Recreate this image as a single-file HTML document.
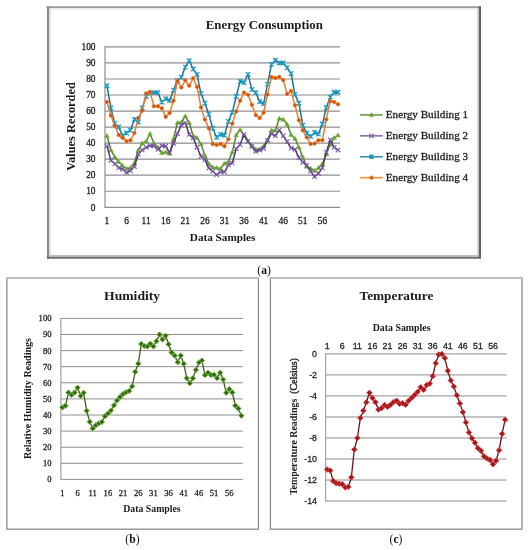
<!DOCTYPE html>
<html><head><meta charset="utf-8"><title>Energy, Humidity and Temperature</title>
<style>html,body{margin:0;padding:0;background:#fff;} body{width:528px;height:550px;overflow:hidden;} svg{display:block;}</style>
</head><body>
<svg width="528" height="550" viewBox="0 0 528 550">
<rect width="528" height="550" fill="#fff"/>
<rect x="47" y="6.3" width="434" height="252.4" fill="#fff"/>
<line x1="46.5" y1="7.2" x2="481" y2="7.2" stroke="#9a9a9a" stroke-width="1.8"/>
<line x1="48" y1="6.3" x2="48" y2="258.7" stroke="#8c8c8c" stroke-width="2.2"/>
<line x1="49.8" y1="8" x2="49.8" y2="256" stroke="#d8d8d8" stroke-width="1.4"/>
<line x1="49" y1="8.9" x2="478" y2="8.9" stroke="#e2e2e2" stroke-width="1.2"/>
<line x1="479.8" y1="6.3" x2="479.8" y2="258.7" stroke="#606060" stroke-width="2.4"/>
<line x1="477.9" y1="8" x2="477.9" y2="256" stroke="#c8c8c8" stroke-width="1.2"/>
<line x1="47" y1="257.6" x2="481" y2="257.6" stroke="#6e6e6e" stroke-width="2.4"/>
<line x1="49" y1="255.6" x2="478" y2="255.6" stroke="#bdbdbd" stroke-width="1.2"/>
<line x1="105" y1="191.26" x2="340" y2="191.26" stroke="#8e8e8e" stroke-width="1.2"/>
<line x1="105" y1="175.22" x2="340" y2="175.22" stroke="#8e8e8e" stroke-width="1.2"/>
<line x1="105" y1="159.18" x2="340" y2="159.18" stroke="#8e8e8e" stroke-width="1.2"/>
<line x1="105" y1="143.14" x2="340" y2="143.14" stroke="#8e8e8e" stroke-width="1.2"/>
<line x1="105" y1="127.1" x2="340" y2="127.1" stroke="#8e8e8e" stroke-width="1.2"/>
<line x1="105" y1="111.06" x2="340" y2="111.06" stroke="#8e8e8e" stroke-width="1.2"/>
<line x1="105" y1="95.02" x2="340" y2="95.02" stroke="#8e8e8e" stroke-width="1.2"/>
<line x1="105" y1="78.98" x2="340" y2="78.98" stroke="#8e8e8e" stroke-width="1.2"/>
<line x1="105" y1="62.94" x2="340" y2="62.94" stroke="#8e8e8e" stroke-width="1.2"/>
<line x1="105" y1="46.9" x2="340" y2="46.9" stroke="#8e8e8e" stroke-width="1.2"/>
<line x1="105" y1="207.3" x2="340" y2="207.3" stroke="#8e8e8e" stroke-width="1.2"/>
<line x1="105" y1="46.3" x2="105" y2="207.9" stroke="#8e8e8e" stroke-width="1.2"/>
<text x="95.5" y="210.5" font-size="9.4" font-family='"Liberation Serif", serif' fill="#222" stroke="#222" stroke-width="0.28" text-anchor="end">0</text>
<text x="95.5" y="194.46" font-size="9.4" font-family='"Liberation Serif", serif' fill="#222" stroke="#222" stroke-width="0.28" text-anchor="end">10</text>
<text x="95.5" y="178.42" font-size="9.4" font-family='"Liberation Serif", serif' fill="#222" stroke="#222" stroke-width="0.28" text-anchor="end">20</text>
<text x="95.5" y="162.38" font-size="9.4" font-family='"Liberation Serif", serif' fill="#222" stroke="#222" stroke-width="0.28" text-anchor="end">30</text>
<text x="95.5" y="146.34" font-size="9.4" font-family='"Liberation Serif", serif' fill="#222" stroke="#222" stroke-width="0.28" text-anchor="end">40</text>
<text x="95.5" y="130.3" font-size="9.4" font-family='"Liberation Serif", serif' fill="#222" stroke="#222" stroke-width="0.28" text-anchor="end">50</text>
<text x="95.5" y="114.26" font-size="9.4" font-family='"Liberation Serif", serif' fill="#222" stroke="#222" stroke-width="0.28" text-anchor="end">60</text>
<text x="95.5" y="98.22" font-size="9.4" font-family='"Liberation Serif", serif' fill="#222" stroke="#222" stroke-width="0.28" text-anchor="end">70</text>
<text x="95.5" y="82.18" font-size="9.4" font-family='"Liberation Serif", serif' fill="#222" stroke="#222" stroke-width="0.28" text-anchor="end">80</text>
<text x="95.5" y="66.14" font-size="9.4" font-family='"Liberation Serif", serif' fill="#222" stroke="#222" stroke-width="0.28" text-anchor="end">90</text>
<text x="95.5" y="50.1" font-size="9.4" font-family='"Liberation Serif", serif' fill="#222" stroke="#222" stroke-width="0.28" text-anchor="end">100</text>
<text x="106.96" y="223.8" font-size="9.4" font-family='"Liberation Serif", serif' fill="#222" stroke="#222" stroke-width="0.28" text-anchor="middle">1</text>
<text x="126.54" y="223.8" font-size="9.4" font-family='"Liberation Serif", serif' fill="#222" stroke="#222" stroke-width="0.28" text-anchor="middle">6</text>
<text x="146.12" y="223.8" font-size="9.4" font-family='"Liberation Serif", serif' fill="#222" stroke="#222" stroke-width="0.28" text-anchor="middle">11</text>
<text x="165.71" y="223.8" font-size="9.4" font-family='"Liberation Serif", serif' fill="#222" stroke="#222" stroke-width="0.28" text-anchor="middle">16</text>
<text x="185.29" y="223.8" font-size="9.4" font-family='"Liberation Serif", serif' fill="#222" stroke="#222" stroke-width="0.28" text-anchor="middle">21</text>
<text x="204.88" y="223.8" font-size="9.4" font-family='"Liberation Serif", serif' fill="#222" stroke="#222" stroke-width="0.28" text-anchor="middle">26</text>
<text x="224.46" y="223.8" font-size="9.4" font-family='"Liberation Serif", serif' fill="#222" stroke="#222" stroke-width="0.28" text-anchor="middle">31</text>
<text x="244.04" y="223.8" font-size="9.4" font-family='"Liberation Serif", serif' fill="#222" stroke="#222" stroke-width="0.28" text-anchor="middle">36</text>
<text x="263.62" y="223.8" font-size="9.4" font-family='"Liberation Serif", serif' fill="#222" stroke="#222" stroke-width="0.28" text-anchor="middle">41</text>
<text x="283.21" y="223.8" font-size="9.4" font-family='"Liberation Serif", serif' fill="#222" stroke="#222" stroke-width="0.28" text-anchor="middle">46</text>
<text x="302.79" y="223.8" font-size="9.4" font-family='"Liberation Serif", serif' fill="#222" stroke="#222" stroke-width="0.28" text-anchor="middle">51</text>
<text x="322.38" y="223.8" font-size="9.4" font-family='"Liberation Serif", serif' fill="#222" stroke="#222" stroke-width="0.28" text-anchor="middle">56</text>
<text x="264.3" y="29.3" font-size="12.8" font-family='"Liberation Serif", serif' fill="#1a1a1a" font-weight="bold" text-anchor="middle" textLength="117" lengthAdjust="spacingAndGlyphs">Energy Consumption</text>
<text x="222.6" y="241.2" font-size="11.3" font-family='"Liberation Serif", serif' fill="#1a1a1a" font-weight="bold" text-anchor="middle" textLength="65.6" lengthAdjust="spacingAndGlyphs">Data Samples</text>
<text x="74.7" y="126.45" font-size="11.8" font-family='"Liberation Serif", serif' fill="#1a1a1a" font-weight="bold" text-anchor="middle" textLength="88.7" lengthAdjust="spacingAndGlyphs" transform="rotate(-90 74.7 126.45)">Values Recorded</text>
<polyline points="106.96,135.76 110.88,150.04 114.79,156.93 118.71,161.75 122.62,165.76 126.54,168.48 130.46,167.84 134.38,163.03 138.29,150.04 142.21,143.3 146.12,141.22 150.04,133.68 153.96,143.3 157.88,147.31 161.79,152.76 165.71,152.12 169.62,153.57 173.54,138.49 177.46,122.77 181.38,122.13 185.29,116.03 189.21,122.77 193.12,135.76 197.04,137.85 200.96,143.94 204.88,155.49 208.79,163.83 212.71,167.2 216.62,167.84 220.54,168.64 224.46,163.51 228.38,161.75 232.29,152.12 236.21,135.12 240.12,129.67 244.04,135.76 247.96,141.22 251.88,145.39 255.79,149.4 259.71,149.4 263.62,146.03 267.54,140.25 271.46,130.31 275.38,130.31 279.29,118.44 283.21,119.4 287.12,124.21 291.04,134.8 294.96,138.49 298.88,147.31 302.79,156.93 306.71,166.56 310.62,168.48 314.54,170.57 318.46,167.84 322.38,163.83 326.29,154.21 330.21,144.58 334.12,137.85 338.04,135.28" fill="none" stroke="#527f2b" stroke-width="1.45" stroke-linejoin="round"/>
<g><path d="M106.96 133.46L109.26 137.49L104.66 137.49Z" fill="#5f9e2e" stroke="#7cbb40" stroke-width="0.6"/><path d="M110.88 147.74L113.17 151.76L108.58 151.76Z" fill="#5f9e2e" stroke="#7cbb40" stroke-width="0.6"/><path d="M114.79 154.63L117.09 158.66L112.49 158.66Z" fill="#5f9e2e" stroke="#7cbb40" stroke-width="0.6"/><path d="M118.71 159.45L121.01 163.47L116.41 163.47Z" fill="#5f9e2e" stroke="#7cbb40" stroke-width="0.6"/><path d="M122.62 163.46L124.92 167.48L120.33 167.48Z" fill="#5f9e2e" stroke="#7cbb40" stroke-width="0.6"/><path d="M126.54 166.18L128.84 170.21L124.24 170.21Z" fill="#5f9e2e" stroke="#7cbb40" stroke-width="0.6"/><path d="M130.46 165.54L132.76 169.57L128.16 169.57Z" fill="#5f9e2e" stroke="#7cbb40" stroke-width="0.6"/><path d="M134.38 160.73L136.68 164.75L132.07 164.75Z" fill="#5f9e2e" stroke="#7cbb40" stroke-width="0.6"/><path d="M138.29 147.74L140.59 151.76L135.99 151.76Z" fill="#5f9e2e" stroke="#7cbb40" stroke-width="0.6"/><path d="M142.21 141L144.51 145.03L139.91 145.03Z" fill="#5f9e2e" stroke="#7cbb40" stroke-width="0.6"/><path d="M146.12 138.92L148.43 142.94L143.82 142.94Z" fill="#5f9e2e" stroke="#7cbb40" stroke-width="0.6"/><path d="M150.04 131.38L152.34 135.4L147.74 135.4Z" fill="#5f9e2e" stroke="#7cbb40" stroke-width="0.6"/><path d="M153.96 141L156.26 145.03L151.66 145.03Z" fill="#5f9e2e" stroke="#7cbb40" stroke-width="0.6"/><path d="M157.88 145.01L160.18 149.04L155.57 149.04Z" fill="#5f9e2e" stroke="#7cbb40" stroke-width="0.6"/><path d="M161.79 150.46L164.09 154.49L159.49 154.49Z" fill="#5f9e2e" stroke="#7cbb40" stroke-width="0.6"/><path d="M165.71 149.82L168.01 153.85L163.41 153.85Z" fill="#5f9e2e" stroke="#7cbb40" stroke-width="0.6"/><path d="M169.62 151.27L171.93 155.29L167.32 155.29Z" fill="#5f9e2e" stroke="#7cbb40" stroke-width="0.6"/><path d="M173.54 136.19L175.84 140.21L171.24 140.21Z" fill="#5f9e2e" stroke="#7cbb40" stroke-width="0.6"/><path d="M177.46 120.47L179.76 124.49L175.16 124.49Z" fill="#5f9e2e" stroke="#7cbb40" stroke-width="0.6"/><path d="M181.38 119.83L183.68 123.85L179.07 123.85Z" fill="#5f9e2e" stroke="#7cbb40" stroke-width="0.6"/><path d="M185.29 113.73L187.59 117.76L182.99 117.76Z" fill="#5f9e2e" stroke="#7cbb40" stroke-width="0.6"/><path d="M189.21 120.47L191.51 124.49L186.91 124.49Z" fill="#5f9e2e" stroke="#7cbb40" stroke-width="0.6"/><path d="M193.12 133.46L195.43 137.49L190.82 137.49Z" fill="#5f9e2e" stroke="#7cbb40" stroke-width="0.6"/><path d="M197.04 135.55L199.34 139.57L194.74 139.57Z" fill="#5f9e2e" stroke="#7cbb40" stroke-width="0.6"/><path d="M200.96 141.64L203.26 145.67L198.66 145.67Z" fill="#5f9e2e" stroke="#7cbb40" stroke-width="0.6"/><path d="M204.88 153.19L207.18 157.22L202.57 157.22Z" fill="#5f9e2e" stroke="#7cbb40" stroke-width="0.6"/><path d="M208.79 161.53L211.09 165.56L206.49 165.56Z" fill="#5f9e2e" stroke="#7cbb40" stroke-width="0.6"/><path d="M212.71 164.9L215.01 168.93L210.41 168.93Z" fill="#5f9e2e" stroke="#7cbb40" stroke-width="0.6"/><path d="M216.62 165.54L218.93 169.57L214.32 169.57Z" fill="#5f9e2e" stroke="#7cbb40" stroke-width="0.6"/><path d="M220.54 166.34L222.84 170.37L218.24 170.37Z" fill="#5f9e2e" stroke="#7cbb40" stroke-width="0.6"/><path d="M224.46 161.21L226.76 165.24L222.16 165.24Z" fill="#5f9e2e" stroke="#7cbb40" stroke-width="0.6"/><path d="M228.38 159.45L230.68 163.47L226.07 163.47Z" fill="#5f9e2e" stroke="#7cbb40" stroke-width="0.6"/><path d="M232.29 149.82L234.59 153.85L229.99 153.85Z" fill="#5f9e2e" stroke="#7cbb40" stroke-width="0.6"/><path d="M236.21 132.82L238.51 136.84L233.91 136.84Z" fill="#5f9e2e" stroke="#7cbb40" stroke-width="0.6"/><path d="M240.12 127.37L242.43 131.39L237.82 131.39Z" fill="#5f9e2e" stroke="#7cbb40" stroke-width="0.6"/><path d="M244.04 133.46L246.34 137.49L241.74 137.49Z" fill="#5f9e2e" stroke="#7cbb40" stroke-width="0.6"/><path d="M247.96 138.92L250.26 142.94L245.66 142.94Z" fill="#5f9e2e" stroke="#7cbb40" stroke-width="0.6"/><path d="M251.88 143.09L254.18 147.11L249.57 147.11Z" fill="#5f9e2e" stroke="#7cbb40" stroke-width="0.6"/><path d="M255.79 147.1L258.09 151.12L253.49 151.12Z" fill="#5f9e2e" stroke="#7cbb40" stroke-width="0.6"/><path d="M259.71 147.1L262.01 151.12L257.41 151.12Z" fill="#5f9e2e" stroke="#7cbb40" stroke-width="0.6"/><path d="M263.62 143.73L265.93 147.75L261.32 147.75Z" fill="#5f9e2e" stroke="#7cbb40" stroke-width="0.6"/><path d="M267.54 137.95L269.84 141.98L265.24 141.98Z" fill="#5f9e2e" stroke="#7cbb40" stroke-width="0.6"/><path d="M271.46 128.01L273.76 132.03L269.16 132.03Z" fill="#5f9e2e" stroke="#7cbb40" stroke-width="0.6"/><path d="M275.38 128.01L277.68 132.03L273.07 132.03Z" fill="#5f9e2e" stroke="#7cbb40" stroke-width="0.6"/><path d="M279.29 116.14L281.59 120.16L276.99 120.16Z" fill="#5f9e2e" stroke="#7cbb40" stroke-width="0.6"/><path d="M283.21 117.1L285.51 121.13L280.91 121.13Z" fill="#5f9e2e" stroke="#7cbb40" stroke-width="0.6"/><path d="M287.12 121.91L289.43 125.94L284.82 125.94Z" fill="#5f9e2e" stroke="#7cbb40" stroke-width="0.6"/><path d="M291.04 132.5L293.34 136.52L288.74 136.52Z" fill="#5f9e2e" stroke="#7cbb40" stroke-width="0.6"/><path d="M294.96 136.19L297.26 140.21L292.66 140.21Z" fill="#5f9e2e" stroke="#7cbb40" stroke-width="0.6"/><path d="M298.88 145.01L301.18 149.04L296.57 149.04Z" fill="#5f9e2e" stroke="#7cbb40" stroke-width="0.6"/><path d="M302.79 154.63L305.09 158.66L300.49 158.66Z" fill="#5f9e2e" stroke="#7cbb40" stroke-width="0.6"/><path d="M306.71 164.26L309.01 168.28L304.41 168.28Z" fill="#5f9e2e" stroke="#7cbb40" stroke-width="0.6"/><path d="M310.62 166.18L312.93 170.21L308.32 170.21Z" fill="#5f9e2e" stroke="#7cbb40" stroke-width="0.6"/><path d="M314.54 168.27L316.84 172.29L312.24 172.29Z" fill="#5f9e2e" stroke="#7cbb40" stroke-width="0.6"/><path d="M318.46 165.54L320.76 169.57L316.16 169.57Z" fill="#5f9e2e" stroke="#7cbb40" stroke-width="0.6"/><path d="M322.38 161.53L324.68 165.56L320.07 165.56Z" fill="#5f9e2e" stroke="#7cbb40" stroke-width="0.6"/><path d="M326.29 151.91L328.59 155.93L323.99 155.93Z" fill="#5f9e2e" stroke="#7cbb40" stroke-width="0.6"/><path d="M330.21 142.28L332.51 146.31L327.91 146.31Z" fill="#5f9e2e" stroke="#7cbb40" stroke-width="0.6"/><path d="M334.12 135.55L336.43 139.57L331.82 139.57Z" fill="#5f9e2e" stroke="#7cbb40" stroke-width="0.6"/><path d="M338.04 132.98L340.34 137.01L335.74 137.01Z" fill="#5f9e2e" stroke="#7cbb40" stroke-width="0.6"/></g>
<polyline points="106.96,146.03 110.88,160.3 114.79,163.83 118.71,167.84 122.62,169.29 126.54,172.65 130.46,170.57 134.38,166.56 138.29,154.21 142.21,150.04 146.12,147.31 150.04,145.71 153.96,146.03 157.88,149.4 161.79,145.71 165.71,146.19 169.62,152.76 173.54,143.3 177.46,133.68 181.38,124.85 185.29,122.77 189.21,134.48 193.12,137.85 197.04,147.31 200.96,156.29 204.88,159.66 208.79,168.16 212.71,171.21 216.62,174.74 220.54,171.85 224.46,172.01 228.38,165.11 232.29,163.03 236.21,148.75 240.12,144.58 244.04,134.48 247.96,141.22 251.88,146.67 255.79,151.48 259.71,150.04 263.62,148.43 267.54,140.25 271.46,133.68 275.38,135.76 279.29,129.99 283.21,135.92 287.12,141.7 291.04,148.11 294.96,149.4 298.88,157.58 302.79,162.39 306.71,165.11 310.62,171.21 314.54,176.66 318.46,173.3 322.38,167.84 326.29,152.12 330.21,139.93 334.12,147.31 338.04,150.04" fill="none" stroke="#4d3270" stroke-width="1.45" stroke-linejoin="round"/>
<g><path d="M104.76 143.83L109.16 148.23M104.76 148.23L109.16 143.83" stroke="#7d55aa" stroke-width="1.1" fill="none"/><path d="M108.67 158.1L113.08 162.5M108.67 162.5L113.08 158.1" stroke="#7d55aa" stroke-width="1.1" fill="none"/><path d="M112.59 161.63L116.99 166.03M112.59 166.03L116.99 161.63" stroke="#7d55aa" stroke-width="1.1" fill="none"/><path d="M116.51 165.64L120.91 170.04M116.51 170.04L120.91 165.64" stroke="#7d55aa" stroke-width="1.1" fill="none"/><path d="M120.42 167.09L124.83 171.49M120.42 171.49L124.83 167.09" stroke="#7d55aa" stroke-width="1.1" fill="none"/><path d="M124.34 170.45L128.74 174.85M124.34 174.85L128.74 170.45" stroke="#7d55aa" stroke-width="1.1" fill="none"/><path d="M128.26 168.37L132.66 172.77M128.26 172.77L132.66 168.37" stroke="#7d55aa" stroke-width="1.1" fill="none"/><path d="M132.18 164.36L136.57 168.76M132.18 168.76L136.57 164.36" stroke="#7d55aa" stroke-width="1.1" fill="none"/><path d="M136.09 152.01L140.49 156.41M136.09 156.41L140.49 152.01" stroke="#7d55aa" stroke-width="1.1" fill="none"/><path d="M140.01 147.84L144.41 152.24M140.01 152.24L144.41 147.84" stroke="#7d55aa" stroke-width="1.1" fill="none"/><path d="M143.93 145.11L148.32 149.51M143.93 149.51L148.32 145.11" stroke="#7d55aa" stroke-width="1.1" fill="none"/><path d="M147.84 143.51L152.24 147.91M147.84 147.91L152.24 143.51" stroke="#7d55aa" stroke-width="1.1" fill="none"/><path d="M151.76 143.83L156.16 148.23M151.76 148.23L156.16 143.83" stroke="#7d55aa" stroke-width="1.1" fill="none"/><path d="M155.68 147.2L160.07 151.6M155.68 151.6L160.07 147.2" stroke="#7d55aa" stroke-width="1.1" fill="none"/><path d="M159.59 143.51L163.99 147.91M159.59 147.91L163.99 143.51" stroke="#7d55aa" stroke-width="1.1" fill="none"/><path d="M163.51 143.99L167.91 148.39M163.51 148.39L167.91 143.99" stroke="#7d55aa" stroke-width="1.1" fill="none"/><path d="M167.43 150.56L171.82 154.96M167.43 154.96L171.82 150.56" stroke="#7d55aa" stroke-width="1.1" fill="none"/><path d="M171.34 141.1L175.74 145.5M171.34 145.5L175.74 141.1" stroke="#7d55aa" stroke-width="1.1" fill="none"/><path d="M175.26 131.48L179.66 135.88M175.26 135.88L179.66 131.48" stroke="#7d55aa" stroke-width="1.1" fill="none"/><path d="M179.18 122.65L183.57 127.05M179.18 127.05L183.57 122.65" stroke="#7d55aa" stroke-width="1.1" fill="none"/><path d="M183.09 120.57L187.49 124.97M183.09 124.97L187.49 120.57" stroke="#7d55aa" stroke-width="1.1" fill="none"/><path d="M187.01 132.28L191.41 136.68M187.01 136.68L191.41 132.28" stroke="#7d55aa" stroke-width="1.1" fill="none"/><path d="M190.93 135.65L195.32 140.05M190.93 140.05L195.32 135.65" stroke="#7d55aa" stroke-width="1.1" fill="none"/><path d="M194.84 145.11L199.24 149.51M194.84 149.51L199.24 145.11" stroke="#7d55aa" stroke-width="1.1" fill="none"/><path d="M198.76 154.09L203.16 158.49M198.76 158.49L203.16 154.09" stroke="#7d55aa" stroke-width="1.1" fill="none"/><path d="M202.68 157.46L207.07 161.86M202.68 161.86L207.07 157.46" stroke="#7d55aa" stroke-width="1.1" fill="none"/><path d="M206.59 165.96L210.99 170.36M206.59 170.36L210.99 165.96" stroke="#7d55aa" stroke-width="1.1" fill="none"/><path d="M210.51 169.01L214.91 173.41M210.51 173.41L214.91 169.01" stroke="#7d55aa" stroke-width="1.1" fill="none"/><path d="M214.43 172.54L218.82 176.94M214.43 176.94L218.82 172.54" stroke="#7d55aa" stroke-width="1.1" fill="none"/><path d="M218.34 169.65L222.74 174.05M218.34 174.05L222.74 169.65" stroke="#7d55aa" stroke-width="1.1" fill="none"/><path d="M222.26 169.81L226.66 174.21M222.26 174.21L226.66 169.81" stroke="#7d55aa" stroke-width="1.1" fill="none"/><path d="M226.18 162.91L230.57 167.31M226.18 167.31L230.57 162.91" stroke="#7d55aa" stroke-width="1.1" fill="none"/><path d="M230.09 160.83L234.49 165.23M230.09 165.23L234.49 160.83" stroke="#7d55aa" stroke-width="1.1" fill="none"/><path d="M234.01 146.55L238.41 150.95M234.01 150.95L238.41 146.55" stroke="#7d55aa" stroke-width="1.1" fill="none"/><path d="M237.93 142.38L242.32 146.78M237.93 146.78L242.32 142.38" stroke="#7d55aa" stroke-width="1.1" fill="none"/><path d="M241.84 132.28L246.24 136.68M241.84 136.68L246.24 132.28" stroke="#7d55aa" stroke-width="1.1" fill="none"/><path d="M245.76 139.02L250.16 143.42M245.76 143.42L250.16 139.02" stroke="#7d55aa" stroke-width="1.1" fill="none"/><path d="M249.68 144.47L254.07 148.87M249.68 148.87L254.07 144.47" stroke="#7d55aa" stroke-width="1.1" fill="none"/><path d="M253.59 149.28L257.99 153.68M253.59 153.68L257.99 149.28" stroke="#7d55aa" stroke-width="1.1" fill="none"/><path d="M257.51 147.84L261.91 152.24M257.51 152.24L261.91 147.84" stroke="#7d55aa" stroke-width="1.1" fill="none"/><path d="M261.43 146.23L265.82 150.63M261.43 150.63L265.82 146.23" stroke="#7d55aa" stroke-width="1.1" fill="none"/><path d="M265.34 138.05L269.74 142.45M265.34 142.45L269.74 138.05" stroke="#7d55aa" stroke-width="1.1" fill="none"/><path d="M269.26 131.48L273.66 135.88M269.26 135.88L273.66 131.48" stroke="#7d55aa" stroke-width="1.1" fill="none"/><path d="M273.18 133.56L277.57 137.96M273.18 137.96L277.57 133.56" stroke="#7d55aa" stroke-width="1.1" fill="none"/><path d="M277.09 127.79L281.49 132.19M277.09 132.19L281.49 127.79" stroke="#7d55aa" stroke-width="1.1" fill="none"/><path d="M281.01 133.72L285.41 138.12M281.01 138.12L285.41 133.72" stroke="#7d55aa" stroke-width="1.1" fill="none"/><path d="M284.93 139.5L289.32 143.9M284.93 143.9L289.32 139.5" stroke="#7d55aa" stroke-width="1.1" fill="none"/><path d="M288.84 145.91L293.24 150.31M288.84 150.31L293.24 145.91" stroke="#7d55aa" stroke-width="1.1" fill="none"/><path d="M292.76 147.2L297.16 151.6M292.76 151.6L297.16 147.2" stroke="#7d55aa" stroke-width="1.1" fill="none"/><path d="M296.68 155.38L301.07 159.78M296.68 159.78L301.07 155.38" stroke="#7d55aa" stroke-width="1.1" fill="none"/><path d="M300.59 160.19L304.99 164.59M300.59 164.59L304.99 160.19" stroke="#7d55aa" stroke-width="1.1" fill="none"/><path d="M304.51 162.91L308.91 167.31M304.51 167.31L308.91 162.91" stroke="#7d55aa" stroke-width="1.1" fill="none"/><path d="M308.43 169.01L312.82 173.41M308.43 173.41L312.82 169.01" stroke="#7d55aa" stroke-width="1.1" fill="none"/><path d="M312.34 174.46L316.74 178.86M312.34 178.86L316.74 174.46" stroke="#7d55aa" stroke-width="1.1" fill="none"/><path d="M316.26 171.1L320.66 175.5M316.26 175.5L320.66 171.1" stroke="#7d55aa" stroke-width="1.1" fill="none"/><path d="M320.18 165.64L324.57 170.04M320.18 170.04L324.57 165.64" stroke="#7d55aa" stroke-width="1.1" fill="none"/><path d="M324.09 149.92L328.49 154.32M324.09 154.32L328.49 149.92" stroke="#7d55aa" stroke-width="1.1" fill="none"/><path d="M328.01 137.73L332.41 142.13M328.01 142.13L332.41 137.73" stroke="#7d55aa" stroke-width="1.1" fill="none"/><path d="M331.93 145.11L336.32 149.51M331.93 149.51L336.32 145.11" stroke="#7d55aa" stroke-width="1.1" fill="none"/><path d="M335.84 147.84L340.24 152.24M335.84 152.24L340.24 147.84" stroke="#7d55aa" stroke-width="1.1" fill="none"/></g>
<polyline points="106.96,85.72 110.88,107.85 114.79,123.57 118.71,126.94 122.62,135.76 126.54,133.03 130.46,130.31 134.38,119.4 138.29,121.97 142.21,107.85 146.12,96.46 150.04,92.93 153.96,92.61 157.88,92.61 161.79,102.24 165.71,98.71 169.62,100.47 173.54,90.21 177.46,80.58 181.38,77.22 185.29,67.11 189.21,60.69 193.12,69.04 197.04,74.49 200.96,93.58 204.88,103.2 208.79,114.27 212.71,128.22 216.62,137.21 220.54,134.48 224.46,135.28 228.38,121.49 232.29,112.34 236.21,96.46 240.12,81.39 244.04,82.51 247.96,74.49 251.88,89.57 255.79,92.61 259.71,101.6 263.62,103.52 267.54,84.11 271.46,64.38 275.38,60.21 279.29,62.94 283.21,62.94 287.12,67.75 291.04,73.53 294.96,94.38 298.88,103.2 302.79,125.18 306.71,133.03 310.62,136.4 314.54,132.39 318.46,134 322.38,124.05 326.29,107.53 330.21,97.11 334.12,92.29 338.04,92.29" fill="none" stroke="#1c6f8e" stroke-width="1.45" stroke-linejoin="round"/>
<g><path d="M104.66 83.42L109.26 88.02M104.66 88.02L109.26 83.42M106.96 83.42V88.02" stroke="#1c9cc2" stroke-width="1.2" fill="none"/><path d="M108.58 105.55L113.17 110.15M108.58 110.15L113.17 105.55M110.88 105.55V110.15" stroke="#1c9cc2" stroke-width="1.2" fill="none"/><path d="M112.49 121.27L117.09 125.87M112.49 125.87L117.09 121.27M114.79 121.27V125.87" stroke="#1c9cc2" stroke-width="1.2" fill="none"/><path d="M116.41 124.64L121.01 129.24M116.41 129.24L121.01 124.64M118.71 124.64V129.24" stroke="#1c9cc2" stroke-width="1.2" fill="none"/><path d="M120.33 133.46L124.92 138.06M120.33 138.06L124.92 133.46M122.62 133.46V138.06" stroke="#1c9cc2" stroke-width="1.2" fill="none"/><path d="M124.24 130.73L128.84 135.33M124.24 135.33L128.84 130.73M126.54 130.73V135.33" stroke="#1c9cc2" stroke-width="1.2" fill="none"/><path d="M128.16 128.01L132.76 132.61M128.16 132.61L132.76 128.01M130.46 128.01V132.61" stroke="#1c9cc2" stroke-width="1.2" fill="none"/><path d="M132.07 117.1L136.68 121.7M132.07 121.7L136.68 117.1M134.38 117.1V121.7" stroke="#1c9cc2" stroke-width="1.2" fill="none"/><path d="M135.99 119.67L140.59 124.27M135.99 124.27L140.59 119.67M138.29 119.67V124.27" stroke="#1c9cc2" stroke-width="1.2" fill="none"/><path d="M139.91 105.55L144.51 110.15M139.91 110.15L144.51 105.55M142.21 105.55V110.15" stroke="#1c9cc2" stroke-width="1.2" fill="none"/><path d="M143.82 94.16L148.43 98.76M143.82 98.76L148.43 94.16M146.12 94.16V98.76" stroke="#1c9cc2" stroke-width="1.2" fill="none"/><path d="M147.74 90.63L152.34 95.23M147.74 95.23L152.34 90.63M150.04 90.63V95.23" stroke="#1c9cc2" stroke-width="1.2" fill="none"/><path d="M151.66 90.31L156.26 94.91M151.66 94.91L156.26 90.31M153.96 90.31V94.91" stroke="#1c9cc2" stroke-width="1.2" fill="none"/><path d="M155.57 90.31L160.18 94.91M155.57 94.91L160.18 90.31M157.88 90.31V94.91" stroke="#1c9cc2" stroke-width="1.2" fill="none"/><path d="M159.49 99.94L164.09 104.54M159.49 104.54L164.09 99.94M161.79 99.94V104.54" stroke="#1c9cc2" stroke-width="1.2" fill="none"/><path d="M163.41 96.41L168.01 101.01M163.41 101.01L168.01 96.41M165.71 96.41V101.01" stroke="#1c9cc2" stroke-width="1.2" fill="none"/><path d="M167.32 98.17L171.93 102.77M167.32 102.77L171.93 98.17M169.62 98.17V102.77" stroke="#1c9cc2" stroke-width="1.2" fill="none"/><path d="M171.24 87.91L175.84 92.51M171.24 92.51L175.84 87.91M173.54 87.91V92.51" stroke="#1c9cc2" stroke-width="1.2" fill="none"/><path d="M175.16 78.28L179.76 82.88M175.16 82.88L179.76 78.28M177.46 78.28V82.88" stroke="#1c9cc2" stroke-width="1.2" fill="none"/><path d="M179.07 74.92L183.68 79.52M179.07 79.52L183.68 74.92M181.38 74.92V79.52" stroke="#1c9cc2" stroke-width="1.2" fill="none"/><path d="M182.99 64.81L187.59 69.41M182.99 69.41L187.59 64.81M185.29 64.81V69.41" stroke="#1c9cc2" stroke-width="1.2" fill="none"/><path d="M186.91 58.39L191.51 62.99M186.91 62.99L191.51 58.39M189.21 58.39V62.99" stroke="#1c9cc2" stroke-width="1.2" fill="none"/><path d="M190.82 66.74L195.43 71.34M190.82 71.34L195.43 66.74M193.12 66.74V71.34" stroke="#1c9cc2" stroke-width="1.2" fill="none"/><path d="M194.74 72.19L199.34 76.79M194.74 76.79L199.34 72.19M197.04 72.19V76.79" stroke="#1c9cc2" stroke-width="1.2" fill="none"/><path d="M198.66 91.28L203.26 95.88M198.66 95.88L203.26 91.28M200.96 91.28V95.88" stroke="#1c9cc2" stroke-width="1.2" fill="none"/><path d="M202.57 100.9L207.18 105.5M202.57 105.5L207.18 100.9M204.88 100.9V105.5" stroke="#1c9cc2" stroke-width="1.2" fill="none"/><path d="M206.49 111.97L211.09 116.57M206.49 116.57L211.09 111.97M208.79 111.97V116.57" stroke="#1c9cc2" stroke-width="1.2" fill="none"/><path d="M210.41 125.92L215.01 130.52M210.41 130.52L215.01 125.92M212.71 125.92V130.52" stroke="#1c9cc2" stroke-width="1.2" fill="none"/><path d="M214.32 134.91L218.93 139.51M214.32 139.51L218.93 134.91M216.62 134.91V139.51" stroke="#1c9cc2" stroke-width="1.2" fill="none"/><path d="M218.24 132.18L222.84 136.78M218.24 136.78L222.84 132.18M220.54 132.18V136.78" stroke="#1c9cc2" stroke-width="1.2" fill="none"/><path d="M222.16 132.98L226.76 137.58M222.16 137.58L226.76 132.98M224.46 132.98V137.58" stroke="#1c9cc2" stroke-width="1.2" fill="none"/><path d="M226.07 119.19L230.68 123.79M226.07 123.79L230.68 119.19M228.38 119.19V123.79" stroke="#1c9cc2" stroke-width="1.2" fill="none"/><path d="M229.99 110.04L234.59 114.64M229.99 114.64L234.59 110.04M232.29 110.04V114.64" stroke="#1c9cc2" stroke-width="1.2" fill="none"/><path d="M233.91 94.16L238.51 98.76M233.91 98.76L238.51 94.16M236.21 94.16V98.76" stroke="#1c9cc2" stroke-width="1.2" fill="none"/><path d="M237.82 79.09L242.43 83.69M237.82 83.69L242.43 79.09M240.12 79.09V83.69" stroke="#1c9cc2" stroke-width="1.2" fill="none"/><path d="M241.74 80.21L246.34 84.81M241.74 84.81L246.34 80.21M244.04 80.21V84.81" stroke="#1c9cc2" stroke-width="1.2" fill="none"/><path d="M245.66 72.19L250.26 76.79M245.66 76.79L250.26 72.19M247.96 72.19V76.79" stroke="#1c9cc2" stroke-width="1.2" fill="none"/><path d="M249.57 87.27L254.18 91.87M249.57 91.87L254.18 87.27M251.88 87.27V91.87" stroke="#1c9cc2" stroke-width="1.2" fill="none"/><path d="M253.49 90.31L258.09 94.91M253.49 94.91L258.09 90.31M255.79 90.31V94.91" stroke="#1c9cc2" stroke-width="1.2" fill="none"/><path d="M257.41 99.3L262.01 103.9M257.41 103.9L262.01 99.3M259.71 99.3V103.9" stroke="#1c9cc2" stroke-width="1.2" fill="none"/><path d="M261.32 101.22L265.93 105.82M261.32 105.82L265.93 101.22M263.62 101.22V105.82" stroke="#1c9cc2" stroke-width="1.2" fill="none"/><path d="M265.24 81.81L269.84 86.41M265.24 86.41L269.84 81.81M267.54 81.81V86.41" stroke="#1c9cc2" stroke-width="1.2" fill="none"/><path d="M269.16 62.08L273.76 66.68M269.16 66.68L273.76 62.08M271.46 62.08V66.68" stroke="#1c9cc2" stroke-width="1.2" fill="none"/><path d="M273.07 57.91L277.68 62.51M273.07 62.51L277.68 57.91M275.38 57.91V62.51" stroke="#1c9cc2" stroke-width="1.2" fill="none"/><path d="M276.99 60.64L281.59 65.24M276.99 65.24L281.59 60.64M279.29 60.64V65.24" stroke="#1c9cc2" stroke-width="1.2" fill="none"/><path d="M280.91 60.64L285.51 65.24M280.91 65.24L285.51 60.64M283.21 60.64V65.24" stroke="#1c9cc2" stroke-width="1.2" fill="none"/><path d="M284.82 65.45L289.43 70.05M284.82 70.05L289.43 65.45M287.12 65.45V70.05" stroke="#1c9cc2" stroke-width="1.2" fill="none"/><path d="M288.74 71.23L293.34 75.83M288.74 75.83L293.34 71.23M291.04 71.23V75.83" stroke="#1c9cc2" stroke-width="1.2" fill="none"/><path d="M292.66 92.08L297.26 96.68M292.66 96.68L297.26 92.08M294.96 92.08V96.68" stroke="#1c9cc2" stroke-width="1.2" fill="none"/><path d="M296.57 100.9L301.18 105.5M296.57 105.5L301.18 100.9M298.88 100.9V105.5" stroke="#1c9cc2" stroke-width="1.2" fill="none"/><path d="M300.49 122.88L305.09 127.48M300.49 127.48L305.09 122.88M302.79 122.88V127.48" stroke="#1c9cc2" stroke-width="1.2" fill="none"/><path d="M304.41 130.73L309.01 135.33M304.41 135.33L309.01 130.73M306.71 130.73V135.33" stroke="#1c9cc2" stroke-width="1.2" fill="none"/><path d="M308.32 134.1L312.93 138.7M308.32 138.7L312.93 134.1M310.62 134.1V138.7" stroke="#1c9cc2" stroke-width="1.2" fill="none"/><path d="M312.24 130.09L316.84 134.69M312.24 134.69L316.84 130.09M314.54 130.09V134.69" stroke="#1c9cc2" stroke-width="1.2" fill="none"/><path d="M316.16 131.7L320.76 136.3M316.16 136.3L320.76 131.7M318.46 131.7V136.3" stroke="#1c9cc2" stroke-width="1.2" fill="none"/><path d="M320.07 121.75L324.68 126.35M320.07 126.35L324.68 121.75M322.38 121.75V126.35" stroke="#1c9cc2" stroke-width="1.2" fill="none"/><path d="M323.99 105.23L328.59 109.83M323.99 109.83L328.59 105.23M326.29 105.23V109.83" stroke="#1c9cc2" stroke-width="1.2" fill="none"/><path d="M327.91 94.81L332.51 99.41M327.91 99.41L332.51 94.81M330.21 94.81V99.41" stroke="#1c9cc2" stroke-width="1.2" fill="none"/><path d="M331.82 89.99L336.43 94.59M331.82 94.59L336.43 89.99M334.12 89.99V94.59" stroke="#1c9cc2" stroke-width="1.2" fill="none"/><path d="M335.74 89.99L340.34 94.59M335.74 94.59L340.34 89.99M338.04 89.99V94.59" stroke="#1c9cc2" stroke-width="1.2" fill="none"/></g>
<polyline points="106.96,101.92 110.88,115.55 114.79,125.5 118.71,135.12 122.62,137.85 126.54,141.22 130.46,140.25 134.38,133.03 138.29,117.96 142.21,110.74 146.12,93.42 150.04,91.97 153.96,106.25 157.88,106.25 161.79,108.33 165.71,116.83 169.62,112.98 173.54,100.79 177.46,81.07 181.38,87.48 185.29,80.26 189.21,85.72 193.12,78.18 197.04,86.84 200.96,107.37 204.88,119.4 208.79,128.22 212.71,143.94 216.62,144.9 220.54,143.94 224.46,146.35 228.38,139.13 232.29,123.57 236.21,111.38 240.12,100.79 244.04,92.61 247.96,94.7 251.88,104.8 255.79,115.07 259.71,118.12 263.62,112.66 267.54,94.38 271.46,77.06 275.38,78.02 279.29,77.06 283.21,80.1 287.12,93.9 291.04,90.85 294.96,105.29 298.88,120.2 302.79,130.31 306.71,137.21 310.62,143.94 314.54,143.62 318.46,140.25 322.38,140.25 326.29,119.4 330.21,101.12 334.12,101.92 338.04,104.32" fill="none" stroke="#ef7b2a" stroke-width="1.45" stroke-linejoin="round"/>
<g><circle cx="106.96" cy="101.92" r="1.75" fill="#c4520c" stroke="#ee7624" stroke-width="0.8"/><circle cx="110.88" cy="115.55" r="1.75" fill="#c4520c" stroke="#ee7624" stroke-width="0.8"/><circle cx="114.79" cy="125.5" r="1.75" fill="#c4520c" stroke="#ee7624" stroke-width="0.8"/><circle cx="118.71" cy="135.12" r="1.75" fill="#c4520c" stroke="#ee7624" stroke-width="0.8"/><circle cx="122.62" cy="137.85" r="1.75" fill="#c4520c" stroke="#ee7624" stroke-width="0.8"/><circle cx="126.54" cy="141.22" r="1.75" fill="#c4520c" stroke="#ee7624" stroke-width="0.8"/><circle cx="130.46" cy="140.25" r="1.75" fill="#c4520c" stroke="#ee7624" stroke-width="0.8"/><circle cx="134.38" cy="133.03" r="1.75" fill="#c4520c" stroke="#ee7624" stroke-width="0.8"/><circle cx="138.29" cy="117.96" r="1.75" fill="#c4520c" stroke="#ee7624" stroke-width="0.8"/><circle cx="142.21" cy="110.74" r="1.75" fill="#c4520c" stroke="#ee7624" stroke-width="0.8"/><circle cx="146.12" cy="93.42" r="1.75" fill="#c4520c" stroke="#ee7624" stroke-width="0.8"/><circle cx="150.04" cy="91.97" r="1.75" fill="#c4520c" stroke="#ee7624" stroke-width="0.8"/><circle cx="153.96" cy="106.25" r="1.75" fill="#c4520c" stroke="#ee7624" stroke-width="0.8"/><circle cx="157.88" cy="106.25" r="1.75" fill="#c4520c" stroke="#ee7624" stroke-width="0.8"/><circle cx="161.79" cy="108.33" r="1.75" fill="#c4520c" stroke="#ee7624" stroke-width="0.8"/><circle cx="165.71" cy="116.83" r="1.75" fill="#c4520c" stroke="#ee7624" stroke-width="0.8"/><circle cx="169.62" cy="112.98" r="1.75" fill="#c4520c" stroke="#ee7624" stroke-width="0.8"/><circle cx="173.54" cy="100.79" r="1.75" fill="#c4520c" stroke="#ee7624" stroke-width="0.8"/><circle cx="177.46" cy="81.07" r="1.75" fill="#c4520c" stroke="#ee7624" stroke-width="0.8"/><circle cx="181.38" cy="87.48" r="1.75" fill="#c4520c" stroke="#ee7624" stroke-width="0.8"/><circle cx="185.29" cy="80.26" r="1.75" fill="#c4520c" stroke="#ee7624" stroke-width="0.8"/><circle cx="189.21" cy="85.72" r="1.75" fill="#c4520c" stroke="#ee7624" stroke-width="0.8"/><circle cx="193.12" cy="78.18" r="1.75" fill="#c4520c" stroke="#ee7624" stroke-width="0.8"/><circle cx="197.04" cy="86.84" r="1.75" fill="#c4520c" stroke="#ee7624" stroke-width="0.8"/><circle cx="200.96" cy="107.37" r="1.75" fill="#c4520c" stroke="#ee7624" stroke-width="0.8"/><circle cx="204.88" cy="119.4" r="1.75" fill="#c4520c" stroke="#ee7624" stroke-width="0.8"/><circle cx="208.79" cy="128.22" r="1.75" fill="#c4520c" stroke="#ee7624" stroke-width="0.8"/><circle cx="212.71" cy="143.94" r="1.75" fill="#c4520c" stroke="#ee7624" stroke-width="0.8"/><circle cx="216.62" cy="144.9" r="1.75" fill="#c4520c" stroke="#ee7624" stroke-width="0.8"/><circle cx="220.54" cy="143.94" r="1.75" fill="#c4520c" stroke="#ee7624" stroke-width="0.8"/><circle cx="224.46" cy="146.35" r="1.75" fill="#c4520c" stroke="#ee7624" stroke-width="0.8"/><circle cx="228.38" cy="139.13" r="1.75" fill="#c4520c" stroke="#ee7624" stroke-width="0.8"/><circle cx="232.29" cy="123.57" r="1.75" fill="#c4520c" stroke="#ee7624" stroke-width="0.8"/><circle cx="236.21" cy="111.38" r="1.75" fill="#c4520c" stroke="#ee7624" stroke-width="0.8"/><circle cx="240.12" cy="100.79" r="1.75" fill="#c4520c" stroke="#ee7624" stroke-width="0.8"/><circle cx="244.04" cy="92.61" r="1.75" fill="#c4520c" stroke="#ee7624" stroke-width="0.8"/><circle cx="247.96" cy="94.7" r="1.75" fill="#c4520c" stroke="#ee7624" stroke-width="0.8"/><circle cx="251.88" cy="104.8" r="1.75" fill="#c4520c" stroke="#ee7624" stroke-width="0.8"/><circle cx="255.79" cy="115.07" r="1.75" fill="#c4520c" stroke="#ee7624" stroke-width="0.8"/><circle cx="259.71" cy="118.12" r="1.75" fill="#c4520c" stroke="#ee7624" stroke-width="0.8"/><circle cx="263.62" cy="112.66" r="1.75" fill="#c4520c" stroke="#ee7624" stroke-width="0.8"/><circle cx="267.54" cy="94.38" r="1.75" fill="#c4520c" stroke="#ee7624" stroke-width="0.8"/><circle cx="271.46" cy="77.06" r="1.75" fill="#c4520c" stroke="#ee7624" stroke-width="0.8"/><circle cx="275.38" cy="78.02" r="1.75" fill="#c4520c" stroke="#ee7624" stroke-width="0.8"/><circle cx="279.29" cy="77.06" r="1.75" fill="#c4520c" stroke="#ee7624" stroke-width="0.8"/><circle cx="283.21" cy="80.1" r="1.75" fill="#c4520c" stroke="#ee7624" stroke-width="0.8"/><circle cx="287.12" cy="93.9" r="1.75" fill="#c4520c" stroke="#ee7624" stroke-width="0.8"/><circle cx="291.04" cy="90.85" r="1.75" fill="#c4520c" stroke="#ee7624" stroke-width="0.8"/><circle cx="294.96" cy="105.29" r="1.75" fill="#c4520c" stroke="#ee7624" stroke-width="0.8"/><circle cx="298.88" cy="120.2" r="1.75" fill="#c4520c" stroke="#ee7624" stroke-width="0.8"/><circle cx="302.79" cy="130.31" r="1.75" fill="#c4520c" stroke="#ee7624" stroke-width="0.8"/><circle cx="306.71" cy="137.21" r="1.75" fill="#c4520c" stroke="#ee7624" stroke-width="0.8"/><circle cx="310.62" cy="143.94" r="1.75" fill="#c4520c" stroke="#ee7624" stroke-width="0.8"/><circle cx="314.54" cy="143.62" r="1.75" fill="#c4520c" stroke="#ee7624" stroke-width="0.8"/><circle cx="318.46" cy="140.25" r="1.75" fill="#c4520c" stroke="#ee7624" stroke-width="0.8"/><circle cx="322.38" cy="140.25" r="1.75" fill="#c4520c" stroke="#ee7624" stroke-width="0.8"/><circle cx="326.29" cy="119.4" r="1.75" fill="#c4520c" stroke="#ee7624" stroke-width="0.8"/><circle cx="330.21" cy="101.12" r="1.75" fill="#c4520c" stroke="#ee7624" stroke-width="0.8"/><circle cx="334.12" cy="101.92" r="1.75" fill="#c4520c" stroke="#ee7624" stroke-width="0.8"/><circle cx="338.04" cy="104.32" r="1.75" fill="#c4520c" stroke="#ee7624" stroke-width="0.8"/></g>
<line x1="359.9" y1="114.9" x2="382.8" y2="114.9" stroke="#6f9a45" stroke-width="1.6"/>
<path d="M371.5 112.6L373.8 116.62L369.2 116.62Z" fill="#5f9e2e" stroke="#7cbb40" stroke-width="0.6"/>
<text x="385.8" y="118.2" font-size="10.4" font-family='"Liberation Serif", serif' fill="#222" stroke="#222" stroke-width="0.28" textLength="82.3" lengthAdjust="spacingAndGlyphs">Energy Building 1</text>
<line x1="359.9" y1="135.83" x2="382.8" y2="135.83" stroke="#8a6fa8" stroke-width="1.6"/>
<path d="M369.3 133.63L373.7 138.03M369.3 138.03L373.7 133.63" stroke="#7d55aa" stroke-width="1.1" fill="none"/>
<text x="385.8" y="139.13" font-size="10.4" font-family='"Liberation Serif", serif' fill="#222" stroke="#222" stroke-width="0.28" textLength="82.3" lengthAdjust="spacingAndGlyphs">Energy Building 2</text>
<line x1="359.9" y1="156.76" x2="382.8" y2="156.76" stroke="#3a8fa0" stroke-width="1.6"/>
<rect x="369.3" y="154.56" width="4.4" height="4.4" fill="#1c9cc2"/>
<text x="385.8" y="160.06" font-size="10.4" font-family='"Liberation Serif", serif' fill="#222" stroke="#222" stroke-width="0.28" textLength="82.3" lengthAdjust="spacingAndGlyphs">Energy Building 3</text>
<line x1="359.9" y1="177.69" x2="382.8" y2="177.69" stroke="#f5923e" stroke-width="1.6"/>
<circle cx="371.5" cy="177.69" r="1.75" fill="#d35c12" stroke="#e8792c" stroke-width="0.8"/>
<text x="385.8" y="180.99" font-size="10.4" font-family='"Liberation Serif", serif' fill="#222" stroke="#222" stroke-width="0.28" textLength="82.3" lengthAdjust="spacingAndGlyphs">Energy Building 4</text>
<rect x="6.9" y="278.1" width="251.5" height="251.1" fill="#fff" stroke="#8c8c8c" stroke-width="1.3"/>
<line x1="6.3" y1="278.1" x2="259" y2="278.1" stroke="#c2c2c2" stroke-width="1.3"/>
<line x1="60.9" y1="479.4" x2="242.9" y2="479.4" stroke="#8e8e8e" stroke-width="1"/>
<line x1="60.9" y1="463.3" x2="242.9" y2="463.3" stroke="#8e8e8e" stroke-width="1"/>
<line x1="60.9" y1="447.2" x2="242.9" y2="447.2" stroke="#8e8e8e" stroke-width="1"/>
<line x1="60.9" y1="431.1" x2="242.9" y2="431.1" stroke="#8e8e8e" stroke-width="1"/>
<line x1="60.9" y1="415" x2="242.9" y2="415" stroke="#8e8e8e" stroke-width="1"/>
<line x1="60.9" y1="398.9" x2="242.9" y2="398.9" stroke="#8e8e8e" stroke-width="1"/>
<line x1="60.9" y1="382.8" x2="242.9" y2="382.8" stroke="#8e8e8e" stroke-width="1"/>
<line x1="60.9" y1="366.7" x2="242.9" y2="366.7" stroke="#8e8e8e" stroke-width="1"/>
<line x1="60.9" y1="350.6" x2="242.9" y2="350.6" stroke="#8e8e8e" stroke-width="1"/>
<line x1="60.9" y1="334.5" x2="242.9" y2="334.5" stroke="#8e8e8e" stroke-width="1"/>
<line x1="60.9" y1="318.4" x2="242.9" y2="318.4" stroke="#8e8e8e" stroke-width="1"/>
<line x1="60.9" y1="317.9" x2="60.9" y2="479.9" stroke="#8e8e8e" stroke-width="1"/>
<text x="51.5" y="482.3" font-size="8.6" font-family='"Liberation Serif", serif' fill="#222" stroke="#222" stroke-width="0.28" text-anchor="end">0</text>
<text x="51.5" y="466.2" font-size="8.6" font-family='"Liberation Serif", serif' fill="#222" stroke="#222" stroke-width="0.28" text-anchor="end">10</text>
<text x="51.5" y="450.1" font-size="8.6" font-family='"Liberation Serif", serif' fill="#222" stroke="#222" stroke-width="0.28" text-anchor="end">20</text>
<text x="51.5" y="434" font-size="8.6" font-family='"Liberation Serif", serif' fill="#222" stroke="#222" stroke-width="0.28" text-anchor="end">30</text>
<text x="51.5" y="417.9" font-size="8.6" font-family='"Liberation Serif", serif' fill="#222" stroke="#222" stroke-width="0.28" text-anchor="end">40</text>
<text x="51.5" y="401.8" font-size="8.6" font-family='"Liberation Serif", serif' fill="#222" stroke="#222" stroke-width="0.28" text-anchor="end">50</text>
<text x="51.5" y="385.7" font-size="8.6" font-family='"Liberation Serif", serif' fill="#222" stroke="#222" stroke-width="0.28" text-anchor="end">60</text>
<text x="51.5" y="369.6" font-size="8.6" font-family='"Liberation Serif", serif' fill="#222" stroke="#222" stroke-width="0.28" text-anchor="end">70</text>
<text x="51.5" y="353.5" font-size="8.6" font-family='"Liberation Serif", serif' fill="#222" stroke="#222" stroke-width="0.28" text-anchor="end">80</text>
<text x="51.5" y="337.4" font-size="8.6" font-family='"Liberation Serif", serif' fill="#222" stroke="#222" stroke-width="0.28" text-anchor="end">90</text>
<text x="51.5" y="321.3" font-size="8.6" font-family='"Liberation Serif", serif' fill="#222" stroke="#222" stroke-width="0.28" text-anchor="end">100</text>
<text x="62.42" y="495.8" font-size="8.6" font-family='"Liberation Serif", serif' fill="#222" stroke="#222" stroke-width="0.28" text-anchor="middle">1</text>
<text x="77.58" y="495.8" font-size="8.6" font-family='"Liberation Serif", serif' fill="#222" stroke="#222" stroke-width="0.28" text-anchor="middle">6</text>
<text x="92.75" y="495.8" font-size="8.6" font-family='"Liberation Serif", serif' fill="#222" stroke="#222" stroke-width="0.28" text-anchor="middle">11</text>
<text x="107.92" y="495.8" font-size="8.6" font-family='"Liberation Serif", serif' fill="#222" stroke="#222" stroke-width="0.28" text-anchor="middle">16</text>
<text x="123.08" y="495.8" font-size="8.6" font-family='"Liberation Serif", serif' fill="#222" stroke="#222" stroke-width="0.28" text-anchor="middle">21</text>
<text x="138.25" y="495.8" font-size="8.6" font-family='"Liberation Serif", serif' fill="#222" stroke="#222" stroke-width="0.28" text-anchor="middle">26</text>
<text x="153.42" y="495.8" font-size="8.6" font-family='"Liberation Serif", serif' fill="#222" stroke="#222" stroke-width="0.28" text-anchor="middle">31</text>
<text x="168.58" y="495.8" font-size="8.6" font-family='"Liberation Serif", serif' fill="#222" stroke="#222" stroke-width="0.28" text-anchor="middle">36</text>
<text x="183.75" y="495.8" font-size="8.6" font-family='"Liberation Serif", serif' fill="#222" stroke="#222" stroke-width="0.28" text-anchor="middle">41</text>
<text x="198.92" y="495.8" font-size="8.6" font-family='"Liberation Serif", serif' fill="#222" stroke="#222" stroke-width="0.28" text-anchor="middle">46</text>
<text x="214.08" y="495.8" font-size="8.6" font-family='"Liberation Serif", serif' fill="#222" stroke="#222" stroke-width="0.28" text-anchor="middle">51</text>
<text x="229.25" y="495.8" font-size="8.6" font-family='"Liberation Serif", serif' fill="#222" stroke="#222" stroke-width="0.28" text-anchor="middle">56</text>
<text x="132.1" y="300" font-size="12.8" font-family='"Liberation Serif", serif' fill="#1a1a1a" font-weight="bold" text-anchor="middle" textLength="56.2" lengthAdjust="spacingAndGlyphs">Humidity</text>
<text x="152" y="512.3" font-size="9.8" font-family='"Liberation Serif", serif' fill="#1a1a1a" font-weight="bold" text-anchor="middle" textLength="57.4" lengthAdjust="spacingAndGlyphs">Data Samples</text>
<text x="31" y="398.5" font-size="9.4" font-family='"Liberation Serif", serif' fill="#1a1a1a" font-weight="bold" text-anchor="middle" textLength="121" lengthAdjust="spacingAndGlyphs" transform="rotate(-90 31 398.5)">Relative Humidity Readings</text>
<polyline points="62.42,407.43 65.45,405.66 68.48,392.62 71.52,395.04 74.55,392.62 77.58,387.63 80.62,396 83.65,392.78 86.68,410.81 89.72,421.76 92.75,428.52 95.78,425.3 98.82,423.37 101.85,421.92 104.88,416.29 107.92,413.55 110.95,410.49 113.98,405.34 117.02,400.51 120.05,396.97 123.08,394.07 126.12,392.14 129.15,391.01 132.18,386.34 135.22,371.85 138.25,363.64 141.28,344 144.32,345.93 147.35,346.41 150.38,343.68 153.42,346.41 156.45,341.26 159.48,334.5 162.52,339.49 165.55,335.79 168.58,344.32 171.62,352.53 174.65,355.59 177.68,362.19 180.72,355.59 183.75,363.8 186.78,378.13 189.82,383.28 192.85,378.13 195.88,369.92 198.92,362.51 201.95,360.42 204.98,375.07 208.02,372.66 211.05,375.07 214.08,374.75 217.12,378.13 220.15,372.66 223.18,379.58 226.22,392.78 229.25,389.08 232.28,392.46 235.32,405.5 238.35,408.56 241.38,415.64" fill="none" stroke="#3e5d1e" stroke-width="1.3" stroke-linejoin="round"/>
<g><path d="M62.42 404.68L65.17 407.43L62.42 410.18L59.67 407.43Z" fill="#34661a" stroke="#80c446" stroke-width="0.9"/><path d="M65.45 402.91L68.2 405.66L65.45 408.41L62.7 405.66Z" fill="#34661a" stroke="#80c446" stroke-width="0.9"/><path d="M68.48 389.87L71.23 392.62L68.48 395.37L65.73 392.62Z" fill="#34661a" stroke="#80c446" stroke-width="0.9"/><path d="M71.52 392.29L74.27 395.04L71.52 397.79L68.77 395.04Z" fill="#34661a" stroke="#80c446" stroke-width="0.9"/><path d="M74.55 389.87L77.3 392.62L74.55 395.37L71.8 392.62Z" fill="#34661a" stroke="#80c446" stroke-width="0.9"/><path d="M77.58 384.88L80.33 387.63L77.58 390.38L74.83 387.63Z" fill="#34661a" stroke="#80c446" stroke-width="0.9"/><path d="M80.62 393.25L83.37 396L80.62 398.75L77.87 396Z" fill="#34661a" stroke="#80c446" stroke-width="0.9"/><path d="M83.65 390.03L86.4 392.78L83.65 395.53L80.9 392.78Z" fill="#34661a" stroke="#80c446" stroke-width="0.9"/><path d="M86.68 408.06L89.43 410.81L86.68 413.56L83.93 410.81Z" fill="#34661a" stroke="#80c446" stroke-width="0.9"/><path d="M89.72 419.01L92.47 421.76L89.72 424.51L86.97 421.76Z" fill="#34661a" stroke="#80c446" stroke-width="0.9"/><path d="M92.75 425.77L95.5 428.52L92.75 431.27L90 428.52Z" fill="#34661a" stroke="#80c446" stroke-width="0.9"/><path d="M95.78 422.55L98.53 425.3L95.78 428.05L93.03 425.3Z" fill="#34661a" stroke="#80c446" stroke-width="0.9"/><path d="M98.82 420.62L101.57 423.37L98.82 426.12L96.07 423.37Z" fill="#34661a" stroke="#80c446" stroke-width="0.9"/><path d="M101.85 419.17L104.6 421.92L101.85 424.67L99.1 421.92Z" fill="#34661a" stroke="#80c446" stroke-width="0.9"/><path d="M104.88 413.54L107.63 416.29L104.88 419.04L102.13 416.29Z" fill="#34661a" stroke="#80c446" stroke-width="0.9"/><path d="M107.92 410.8L110.67 413.55L107.92 416.3L105.17 413.55Z" fill="#34661a" stroke="#80c446" stroke-width="0.9"/><path d="M110.95 407.74L113.7 410.49L110.95 413.24L108.2 410.49Z" fill="#34661a" stroke="#80c446" stroke-width="0.9"/><path d="M113.98 402.59L116.73 405.34L113.98 408.09L111.23 405.34Z" fill="#34661a" stroke="#80c446" stroke-width="0.9"/><path d="M117.02 397.76L119.77 400.51L117.02 403.26L114.27 400.51Z" fill="#34661a" stroke="#80c446" stroke-width="0.9"/><path d="M120.05 394.22L122.8 396.97L120.05 399.72L117.3 396.97Z" fill="#34661a" stroke="#80c446" stroke-width="0.9"/><path d="M123.08 391.32L125.83 394.07L123.08 396.82L120.33 394.07Z" fill="#34661a" stroke="#80c446" stroke-width="0.9"/><path d="M126.12 389.39L128.87 392.14L126.12 394.89L123.37 392.14Z" fill="#34661a" stroke="#80c446" stroke-width="0.9"/><path d="M129.15 388.26L131.9 391.01L129.15 393.76L126.4 391.01Z" fill="#34661a" stroke="#80c446" stroke-width="0.9"/><path d="M132.18 383.59L134.93 386.34L132.18 389.09L129.43 386.34Z" fill="#34661a" stroke="#80c446" stroke-width="0.9"/><path d="M135.22 369.1L137.97 371.85L135.22 374.6L132.47 371.85Z" fill="#34661a" stroke="#80c446" stroke-width="0.9"/><path d="M138.25 360.89L141 363.64L138.25 366.39L135.5 363.64Z" fill="#34661a" stroke="#80c446" stroke-width="0.9"/><path d="M141.28 341.25L144.03 344L141.28 346.75L138.53 344Z" fill="#34661a" stroke="#80c446" stroke-width="0.9"/><path d="M144.32 343.18L147.07 345.93L144.32 348.68L141.57 345.93Z" fill="#34661a" stroke="#80c446" stroke-width="0.9"/><path d="M147.35 343.66L150.1 346.41L147.35 349.16L144.6 346.41Z" fill="#34661a" stroke="#80c446" stroke-width="0.9"/><path d="M150.38 340.93L153.13 343.68L150.38 346.43L147.63 343.68Z" fill="#34661a" stroke="#80c446" stroke-width="0.9"/><path d="M153.42 343.66L156.17 346.41L153.42 349.16L150.67 346.41Z" fill="#34661a" stroke="#80c446" stroke-width="0.9"/><path d="M156.45 338.51L159.2 341.26L156.45 344.01L153.7 341.26Z" fill="#34661a" stroke="#80c446" stroke-width="0.9"/><path d="M159.48 331.75L162.23 334.5L159.48 337.25L156.73 334.5Z" fill="#34661a" stroke="#80c446" stroke-width="0.9"/><path d="M162.52 336.74L165.27 339.49L162.52 342.24L159.77 339.49Z" fill="#34661a" stroke="#80c446" stroke-width="0.9"/><path d="M165.55 333.04L168.3 335.79L165.55 338.54L162.8 335.79Z" fill="#34661a" stroke="#80c446" stroke-width="0.9"/><path d="M168.58 341.57L171.33 344.32L168.58 347.07L165.83 344.32Z" fill="#34661a" stroke="#80c446" stroke-width="0.9"/><path d="M171.62 349.78L174.37 352.53L171.62 355.28L168.87 352.53Z" fill="#34661a" stroke="#80c446" stroke-width="0.9"/><path d="M174.65 352.84L177.4 355.59L174.65 358.34L171.9 355.59Z" fill="#34661a" stroke="#80c446" stroke-width="0.9"/><path d="M177.68 359.44L180.43 362.19L177.68 364.94L174.93 362.19Z" fill="#34661a" stroke="#80c446" stroke-width="0.9"/><path d="M180.72 352.84L183.47 355.59L180.72 358.34L177.97 355.59Z" fill="#34661a" stroke="#80c446" stroke-width="0.9"/><path d="M183.75 361.05L186.5 363.8L183.75 366.55L181 363.8Z" fill="#34661a" stroke="#80c446" stroke-width="0.9"/><path d="M186.78 375.38L189.53 378.13L186.78 380.88L184.03 378.13Z" fill="#34661a" stroke="#80c446" stroke-width="0.9"/><path d="M189.82 380.53L192.57 383.28L189.82 386.03L187.07 383.28Z" fill="#34661a" stroke="#80c446" stroke-width="0.9"/><path d="M192.85 375.38L195.6 378.13L192.85 380.88L190.1 378.13Z" fill="#34661a" stroke="#80c446" stroke-width="0.9"/><path d="M195.88 367.17L198.63 369.92L195.88 372.67L193.13 369.92Z" fill="#34661a" stroke="#80c446" stroke-width="0.9"/><path d="M198.92 359.76L201.67 362.51L198.92 365.26L196.17 362.51Z" fill="#34661a" stroke="#80c446" stroke-width="0.9"/><path d="M201.95 357.67L204.7 360.42L201.95 363.17L199.2 360.42Z" fill="#34661a" stroke="#80c446" stroke-width="0.9"/><path d="M204.98 372.32L207.73 375.07L204.98 377.82L202.23 375.07Z" fill="#34661a" stroke="#80c446" stroke-width="0.9"/><path d="M208.02 369.91L210.77 372.66L208.02 375.41L205.27 372.66Z" fill="#34661a" stroke="#80c446" stroke-width="0.9"/><path d="M211.05 372.32L213.8 375.07L211.05 377.82L208.3 375.07Z" fill="#34661a" stroke="#80c446" stroke-width="0.9"/><path d="M214.08 372L216.83 374.75L214.08 377.5L211.33 374.75Z" fill="#34661a" stroke="#80c446" stroke-width="0.9"/><path d="M217.12 375.38L219.87 378.13L217.12 380.88L214.37 378.13Z" fill="#34661a" stroke="#80c446" stroke-width="0.9"/><path d="M220.15 369.91L222.9 372.66L220.15 375.41L217.4 372.66Z" fill="#34661a" stroke="#80c446" stroke-width="0.9"/><path d="M223.18 376.83L225.93 379.58L223.18 382.33L220.43 379.58Z" fill="#34661a" stroke="#80c446" stroke-width="0.9"/><path d="M226.22 390.03L228.97 392.78L226.22 395.53L223.47 392.78Z" fill="#34661a" stroke="#80c446" stroke-width="0.9"/><path d="M229.25 386.33L232 389.08L229.25 391.83L226.5 389.08Z" fill="#34661a" stroke="#80c446" stroke-width="0.9"/><path d="M232.28 389.71L235.03 392.46L232.28 395.21L229.53 392.46Z" fill="#34661a" stroke="#80c446" stroke-width="0.9"/><path d="M235.32 402.75L238.07 405.5L235.32 408.25L232.57 405.5Z" fill="#34661a" stroke="#80c446" stroke-width="0.9"/><path d="M238.35 405.81L241.1 408.56L238.35 411.31L235.6 408.56Z" fill="#34661a" stroke="#80c446" stroke-width="0.9"/><path d="M241.38 412.89L244.13 415.64L241.38 418.39L238.63 415.64Z" fill="#34661a" stroke="#80c446" stroke-width="0.9"/></g>
<rect x="270.4" y="278.1" width="251.6" height="251.1" fill="#fff" stroke="#8c8c8c" stroke-width="1.3"/>
<line x1="269.8" y1="278.1" x2="522.6" y2="278.1" stroke="#c2c2c2" stroke-width="1.3"/>
<line x1="325.7" y1="353.9" x2="506.6" y2="353.9" stroke="#8e8e8e" stroke-width="1"/>
<line x1="325.7" y1="374.92" x2="506.6" y2="374.92" stroke="#8e8e8e" stroke-width="1"/>
<line x1="325.7" y1="395.94" x2="506.6" y2="395.94" stroke="#8e8e8e" stroke-width="1"/>
<line x1="325.7" y1="416.96" x2="506.6" y2="416.96" stroke="#8e8e8e" stroke-width="1"/>
<line x1="325.7" y1="437.98" x2="506.6" y2="437.98" stroke="#8e8e8e" stroke-width="1"/>
<line x1="325.7" y1="459" x2="506.6" y2="459" stroke="#8e8e8e" stroke-width="1"/>
<line x1="325.7" y1="480.02" x2="506.6" y2="480.02" stroke="#8e8e8e" stroke-width="1"/>
<line x1="325.7" y1="501.04" x2="506.6" y2="501.04" stroke="#8e8e8e" stroke-width="1"/>
<line x1="325.7" y1="353.4" x2="325.7" y2="501.54" stroke="#8e8e8e" stroke-width="1"/>
<text x="317" y="356.9" font-size="8.8" font-family='"Liberation Sans", sans-serif' fill="#222" stroke="#222" stroke-width="0.28" text-anchor="end">0</text>
<text x="317" y="377.92" font-size="8.8" font-family='"Liberation Sans", sans-serif' fill="#222" stroke="#222" stroke-width="0.28" text-anchor="end">-2</text>
<text x="317" y="398.94" font-size="8.8" font-family='"Liberation Sans", sans-serif' fill="#222" stroke="#222" stroke-width="0.28" text-anchor="end">-4</text>
<text x="317" y="419.96" font-size="8.8" font-family='"Liberation Sans", sans-serif' fill="#222" stroke="#222" stroke-width="0.28" text-anchor="end">-6</text>
<text x="317" y="440.98" font-size="8.8" font-family='"Liberation Sans", sans-serif' fill="#222" stroke="#222" stroke-width="0.28" text-anchor="end">-8</text>
<text x="317" y="462" font-size="8.8" font-family='"Liberation Sans", sans-serif' fill="#222" stroke="#222" stroke-width="0.28" text-anchor="end">-10</text>
<text x="317" y="483.02" font-size="8.8" font-family='"Liberation Sans", sans-serif' fill="#222" stroke="#222" stroke-width="0.28" text-anchor="end">-12</text>
<text x="317" y="504.04" font-size="8.8" font-family='"Liberation Sans", sans-serif' fill="#222" stroke="#222" stroke-width="0.28" text-anchor="end">-14</text>
<text x="327.21" y="348.5" font-size="8.8" font-family='"Liberation Sans", sans-serif' fill="#222" stroke="#222" stroke-width="0.28" text-anchor="middle">1</text>
<text x="342.28" y="348.5" font-size="8.8" font-family='"Liberation Sans", sans-serif' fill="#222" stroke="#222" stroke-width="0.28" text-anchor="middle">6</text>
<text x="357.36" y="348.5" font-size="8.8" font-family='"Liberation Sans", sans-serif' fill="#222" stroke="#222" stroke-width="0.28" text-anchor="middle">11</text>
<text x="372.43" y="348.5" font-size="8.8" font-family='"Liberation Sans", sans-serif' fill="#222" stroke="#222" stroke-width="0.28" text-anchor="middle">16</text>
<text x="387.51" y="348.5" font-size="8.8" font-family='"Liberation Sans", sans-serif' fill="#222" stroke="#222" stroke-width="0.28" text-anchor="middle">21</text>
<text x="402.58" y="348.5" font-size="8.8" font-family='"Liberation Sans", sans-serif' fill="#222" stroke="#222" stroke-width="0.28" text-anchor="middle">26</text>
<text x="417.66" y="348.5" font-size="8.8" font-family='"Liberation Sans", sans-serif' fill="#222" stroke="#222" stroke-width="0.28" text-anchor="middle">31</text>
<text x="432.73" y="348.5" font-size="8.8" font-family='"Liberation Sans", sans-serif' fill="#222" stroke="#222" stroke-width="0.28" text-anchor="middle">36</text>
<text x="447.81" y="348.5" font-size="8.8" font-family='"Liberation Sans", sans-serif' fill="#222" stroke="#222" stroke-width="0.28" text-anchor="middle">41</text>
<text x="462.88" y="348.5" font-size="8.8" font-family='"Liberation Sans", sans-serif' fill="#222" stroke="#222" stroke-width="0.28" text-anchor="middle">46</text>
<text x="477.96" y="348.5" font-size="8.8" font-family='"Liberation Sans", sans-serif' fill="#222" stroke="#222" stroke-width="0.28" text-anchor="middle">51</text>
<text x="493.03" y="348.5" font-size="8.8" font-family='"Liberation Sans", sans-serif' fill="#222" stroke="#222" stroke-width="0.28" text-anchor="middle">56</text>
<text x="396.4" y="299.9" font-size="12.8" font-family='"Liberation Serif", serif' fill="#1a1a1a" font-weight="bold" text-anchor="middle" textLength="73.8" lengthAdjust="spacingAndGlyphs">Temperature</text>
<text x="401.6" y="331.1" font-size="9.8" font-family='"Liberation Serif", serif' fill="#1a1a1a" font-weight="bold" text-anchor="middle" textLength="57.8" lengthAdjust="spacingAndGlyphs">Data Samples</text>
<text x="297" y="426.6" font-size="9.4" font-family='"Liberation Serif", serif' fill="#1a1a1a" text-anchor="middle" textLength="137" lengthAdjust="spacingAndGlyphs" transform="rotate(-90 297 426.6)"><tspan font-weight="bold">Temperature Readings</tspan>&#160;&#160;<tspan stroke="#1a1a1a" stroke-width="0.35">(Celsius)</tspan></text>
<polyline points="327.21,469.51 330.22,470.56 333.24,481.07 336.25,483.17 339.27,483.7 342.28,484.22 345.3,487.38 348.31,486.85 351.33,477.39 354.34,449.54 357.36,437.98 360.37,418.01 363.39,410.65 366.4,402.25 369.42,392.79 372.43,398.04 375.45,402.25 378.46,409.6 381.48,408.24 384.49,405.08 387.51,406.87 390.52,404.77 393.54,402.04 396.55,400.67 399.57,403.72 402.58,403.19 405.6,404.77 408.61,400.67 411.63,397.94 414.64,394.89 417.66,391.84 420.67,387.32 423.69,389.84 426.7,385.01 429.72,383.64 432.73,376.18 435.75,363.15 438.76,354.53 441.78,353.9 444.79,358.1 447.81,370.72 450.82,380.49 453.84,386.59 456.85,395.31 459.87,403.4 462.88,412.13 465.9,422.43 468.91,432.41 471.93,438.3 474.94,442.71 477.96,448.17 480.97,450.8 483.99,456.37 487,458.58 490.02,460.05 493.03,464.25 496.05,460.79 499.06,450.28 502.08,433.78 505.09,419.8" fill="none" stroke="#6a1010" stroke-width="1.3" stroke-linejoin="round"/>
<g><path d="M327.21 466.76L329.96 469.51L327.21 472.26L324.46 469.51Z" fill="#961c20" stroke="#e6383c" stroke-width="0.9"/><path d="M330.22 467.81L332.97 470.56L330.22 473.31L327.47 470.56Z" fill="#961c20" stroke="#e6383c" stroke-width="0.9"/><path d="M333.24 478.32L335.99 481.07L333.24 483.82L330.49 481.07Z" fill="#961c20" stroke="#e6383c" stroke-width="0.9"/><path d="M336.25 480.42L339 483.17L336.25 485.92L333.5 483.17Z" fill="#961c20" stroke="#e6383c" stroke-width="0.9"/><path d="M339.27 480.95L342.02 483.7L339.27 486.45L336.52 483.7Z" fill="#961c20" stroke="#e6383c" stroke-width="0.9"/><path d="M342.28 481.47L345.03 484.22L342.28 486.97L339.53 484.22Z" fill="#961c20" stroke="#e6383c" stroke-width="0.9"/><path d="M345.3 484.63L348.05 487.38L345.3 490.13L342.55 487.38Z" fill="#961c20" stroke="#e6383c" stroke-width="0.9"/><path d="M348.31 484.1L351.06 486.85L348.31 489.6L345.56 486.85Z" fill="#961c20" stroke="#e6383c" stroke-width="0.9"/><path d="M351.33 474.64L354.08 477.39L351.33 480.14L348.58 477.39Z" fill="#961c20" stroke="#e6383c" stroke-width="0.9"/><path d="M354.34 446.79L357.09 449.54L354.34 452.29L351.59 449.54Z" fill="#961c20" stroke="#e6383c" stroke-width="0.9"/><path d="M357.36 435.23L360.11 437.98L357.36 440.73L354.61 437.98Z" fill="#961c20" stroke="#e6383c" stroke-width="0.9"/><path d="M360.37 415.26L363.12 418.01L360.37 420.76L357.62 418.01Z" fill="#961c20" stroke="#e6383c" stroke-width="0.9"/><path d="M363.39 407.9L366.14 410.65L363.39 413.4L360.64 410.65Z" fill="#961c20" stroke="#e6383c" stroke-width="0.9"/><path d="M366.4 399.5L369.15 402.25L366.4 405L363.65 402.25Z" fill="#961c20" stroke="#e6383c" stroke-width="0.9"/><path d="M369.42 390.04L372.17 392.79L369.42 395.54L366.67 392.79Z" fill="#961c20" stroke="#e6383c" stroke-width="0.9"/><path d="M372.43 395.29L375.18 398.04L372.43 400.79L369.68 398.04Z" fill="#961c20" stroke="#e6383c" stroke-width="0.9"/><path d="M375.45 399.5L378.2 402.25L375.45 405L372.7 402.25Z" fill="#961c20" stroke="#e6383c" stroke-width="0.9"/><path d="M378.46 406.85L381.21 409.6L378.46 412.35L375.71 409.6Z" fill="#961c20" stroke="#e6383c" stroke-width="0.9"/><path d="M381.48 405.49L384.23 408.24L381.48 410.99L378.73 408.24Z" fill="#961c20" stroke="#e6383c" stroke-width="0.9"/><path d="M384.49 402.33L387.24 405.08L384.49 407.83L381.74 405.08Z" fill="#961c20" stroke="#e6383c" stroke-width="0.9"/><path d="M387.51 404.12L390.26 406.87L387.51 409.62L384.76 406.87Z" fill="#961c20" stroke="#e6383c" stroke-width="0.9"/><path d="M390.52 402.02L393.27 404.77L390.52 407.52L387.77 404.77Z" fill="#961c20" stroke="#e6383c" stroke-width="0.9"/><path d="M393.54 399.29L396.29 402.04L393.54 404.79L390.79 402.04Z" fill="#961c20" stroke="#e6383c" stroke-width="0.9"/><path d="M396.55 397.92L399.3 400.67L396.55 403.42L393.8 400.67Z" fill="#961c20" stroke="#e6383c" stroke-width="0.9"/><path d="M399.57 400.97L402.32 403.72L399.57 406.47L396.82 403.72Z" fill="#961c20" stroke="#e6383c" stroke-width="0.9"/><path d="M402.58 400.44L405.33 403.19L402.58 405.94L399.83 403.19Z" fill="#961c20" stroke="#e6383c" stroke-width="0.9"/><path d="M405.6 402.02L408.35 404.77L405.6 407.52L402.85 404.77Z" fill="#961c20" stroke="#e6383c" stroke-width="0.9"/><path d="M408.61 397.92L411.36 400.67L408.61 403.42L405.86 400.67Z" fill="#961c20" stroke="#e6383c" stroke-width="0.9"/><path d="M411.63 395.19L414.38 397.94L411.63 400.69L408.88 397.94Z" fill="#961c20" stroke="#e6383c" stroke-width="0.9"/><path d="M414.64 392.14L417.39 394.89L414.64 397.64L411.89 394.89Z" fill="#961c20" stroke="#e6383c" stroke-width="0.9"/><path d="M417.66 389.09L420.41 391.84L417.66 394.59L414.91 391.84Z" fill="#961c20" stroke="#e6383c" stroke-width="0.9"/><path d="M420.67 384.57L423.42 387.32L420.67 390.07L417.92 387.32Z" fill="#961c20" stroke="#e6383c" stroke-width="0.9"/><path d="M423.69 387.09L426.44 389.84L423.69 392.59L420.94 389.84Z" fill="#961c20" stroke="#e6383c" stroke-width="0.9"/><path d="M426.7 382.26L429.45 385.01L426.7 387.76L423.95 385.01Z" fill="#961c20" stroke="#e6383c" stroke-width="0.9"/><path d="M429.72 380.89L432.47 383.64L429.72 386.39L426.97 383.64Z" fill="#961c20" stroke="#e6383c" stroke-width="0.9"/><path d="M432.73 373.43L435.48 376.18L432.73 378.93L429.98 376.18Z" fill="#961c20" stroke="#e6383c" stroke-width="0.9"/><path d="M435.75 360.4L438.5 363.15L435.75 365.9L433 363.15Z" fill="#961c20" stroke="#e6383c" stroke-width="0.9"/><path d="M438.76 351.78L441.51 354.53L438.76 357.28L436.01 354.53Z" fill="#961c20" stroke="#e6383c" stroke-width="0.9"/><path d="M441.78 351.15L444.53 353.9L441.78 356.65L439.03 353.9Z" fill="#961c20" stroke="#e6383c" stroke-width="0.9"/><path d="M444.79 355.35L447.54 358.1L444.79 360.85L442.04 358.1Z" fill="#961c20" stroke="#e6383c" stroke-width="0.9"/><path d="M447.81 367.97L450.56 370.72L447.81 373.47L445.06 370.72Z" fill="#961c20" stroke="#e6383c" stroke-width="0.9"/><path d="M450.82 377.74L453.57 380.49L450.82 383.24L448.07 380.49Z" fill="#961c20" stroke="#e6383c" stroke-width="0.9"/><path d="M453.84 383.84L456.59 386.59L453.84 389.34L451.09 386.59Z" fill="#961c20" stroke="#e6383c" stroke-width="0.9"/><path d="M456.85 392.56L459.6 395.31L456.85 398.06L454.1 395.31Z" fill="#961c20" stroke="#e6383c" stroke-width="0.9"/><path d="M459.87 400.65L462.62 403.4L459.87 406.15L457.12 403.4Z" fill="#961c20" stroke="#e6383c" stroke-width="0.9"/><path d="M462.88 409.38L465.63 412.13L462.88 414.88L460.13 412.13Z" fill="#961c20" stroke="#e6383c" stroke-width="0.9"/><path d="M465.9 419.68L468.65 422.43L465.9 425.18L463.15 422.43Z" fill="#961c20" stroke="#e6383c" stroke-width="0.9"/><path d="M468.91 429.66L471.66 432.41L468.91 435.16L466.16 432.41Z" fill="#961c20" stroke="#e6383c" stroke-width="0.9"/><path d="M471.93 435.55L474.68 438.3L471.93 441.05L469.18 438.3Z" fill="#961c20" stroke="#e6383c" stroke-width="0.9"/><path d="M474.94 439.96L477.69 442.71L474.94 445.46L472.19 442.71Z" fill="#961c20" stroke="#e6383c" stroke-width="0.9"/><path d="M477.96 445.42L480.71 448.17L477.96 450.92L475.21 448.17Z" fill="#961c20" stroke="#e6383c" stroke-width="0.9"/><path d="M480.97 448.05L483.72 450.8L480.97 453.55L478.22 450.8Z" fill="#961c20" stroke="#e6383c" stroke-width="0.9"/><path d="M483.99 453.62L486.74 456.37L483.99 459.12L481.24 456.37Z" fill="#961c20" stroke="#e6383c" stroke-width="0.9"/><path d="M487 455.83L489.75 458.58L487 461.33L484.25 458.58Z" fill="#961c20" stroke="#e6383c" stroke-width="0.9"/><path d="M490.02 457.3L492.77 460.05L490.02 462.8L487.27 460.05Z" fill="#961c20" stroke="#e6383c" stroke-width="0.9"/><path d="M493.03 461.5L495.78 464.25L493.03 467L490.28 464.25Z" fill="#961c20" stroke="#e6383c" stroke-width="0.9"/><path d="M496.05 458.04L498.8 460.79L496.05 463.54L493.3 460.79Z" fill="#961c20" stroke="#e6383c" stroke-width="0.9"/><path d="M499.06 447.53L501.81 450.28L499.06 453.03L496.31 450.28Z" fill="#961c20" stroke="#e6383c" stroke-width="0.9"/><path d="M502.08 431.03L504.83 433.78L502.08 436.53L499.33 433.78Z" fill="#961c20" stroke="#e6383c" stroke-width="0.9"/><path d="M505.09 417.05L507.84 419.8L505.09 422.55L502.34 419.8Z" fill="#961c20" stroke="#e6383c" stroke-width="0.9"/></g>
<text x="264.1" y="274.1" font-size="11.6" font-family='"Liberation Serif", serif' fill="#111" text-anchor="middle">(<tspan font-weight="bold">a</tspan>)</text>
<text x="132.4" y="543.4" font-size="11.6" font-family='"Liberation Serif", serif' fill="#111" text-anchor="middle">(<tspan font-weight="bold">b</tspan>)</text>
<text x="396" y="543.4" font-size="11.6" font-family='"Liberation Serif", serif' fill="#111" text-anchor="middle">(<tspan font-weight="bold">c</tspan>)</text>
</svg>
</body></html>
